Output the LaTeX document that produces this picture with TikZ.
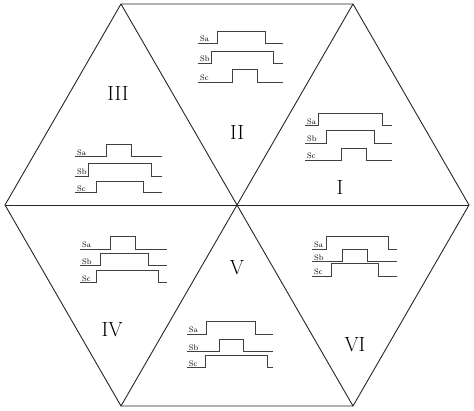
\documentclass[tikz,border=0pt]{standalone}
\begin{document}
\begin{tikzpicture}[x=1pt, y=-1pt,
    edge/.style={line width=0.9pt, black!85},
    wave/.style={line width=0.9pt, black!75},
    sector/.style={font=\fontsize{20.5}{21}\selectfont},
    siglabel/.style={font=\fontsize{8}{8}\selectfont, anchor=south west, inner sep=1pt}]
    \useasboundingbox (0,0) rectangle (474,411);

    % hexagon corners and centre
    \coordinate (O) at (237,205);
    \coordinate (A) at (469,205);
    \coordinate (B) at (353,4);
    \coordinate (C) at (121,4);
    \coordinate (D) at (5,205);
    \coordinate (E) at (121,406);
    \coordinate (F) at (353,406);

    \draw[edge] (A) -- (B) -- (C) -- (D) -- (E) -- (F) -- cycle;
    \foreach \corner in {A,B,C,D,E,F}
        \draw[edge] (O) -- (\corner);

    % sector numbers
    \node[sector] (sI)   at (340,188) {I};
    \node[sector] (sII)  at (237,133) {II};
    \node[sector] (sIII) at (118,94)  {III};
    \node[sector] (sIV)  at (112,330) {IV};
    \node[sector] (sV)   at (237,268) {V};
    \node[sector] (sVI)  at (355,345) {VI};

    % switching signals: start/low/rise/fall/end/high/label
    \foreach \xs/\yl/\xr/\xf/\xe/\yh/\sig [count=\i] in {
        198/43.3/217/265/283/31/Sa, 198/63/211/273/283/51/Sb, 198/82/232/257/283/69.5/Sc,
        305/125.7/318/382/392/113/Sa, 305/143/326/374/392/130.5/Sb, 305/160/341/366/392/148/Sc,
        75/156.7/106/131/162/144.3/Sa, 75/176/88/151/162/163/Sb, 75/192.7/96/143/162/181/Sc,
        80/249/110/135/167/236.7/Sa, 80/265.7/100.7/148/167/253.7/Sb, 80/282.7/96.7/158/167/270.7/Sc,
        312/249/326/388/397/236.7/Sa, 312/261.7/342.7/367.7/397/249/Sb, 312/276/331.7/378/397/263.3/Sc,
        186.7/334/206.7/255/273/321.7/Sa, 186.7/351.7/219/243.3/273/339/Sb, 186.7/367.7/205.7/267.3/273/355.7/Sc}
    {
        \draw[wave] (\xs,\yl) -- (\xr,\yl) -- (\xr,\yh) -- (\xf,\yh) -- (\xf,\yl) -- (\xe,\yl);
        \node[siglabel] (lab\i) at (\xs+1,\yl) {\sig};
    }
\end{tikzpicture}
\end{document}
